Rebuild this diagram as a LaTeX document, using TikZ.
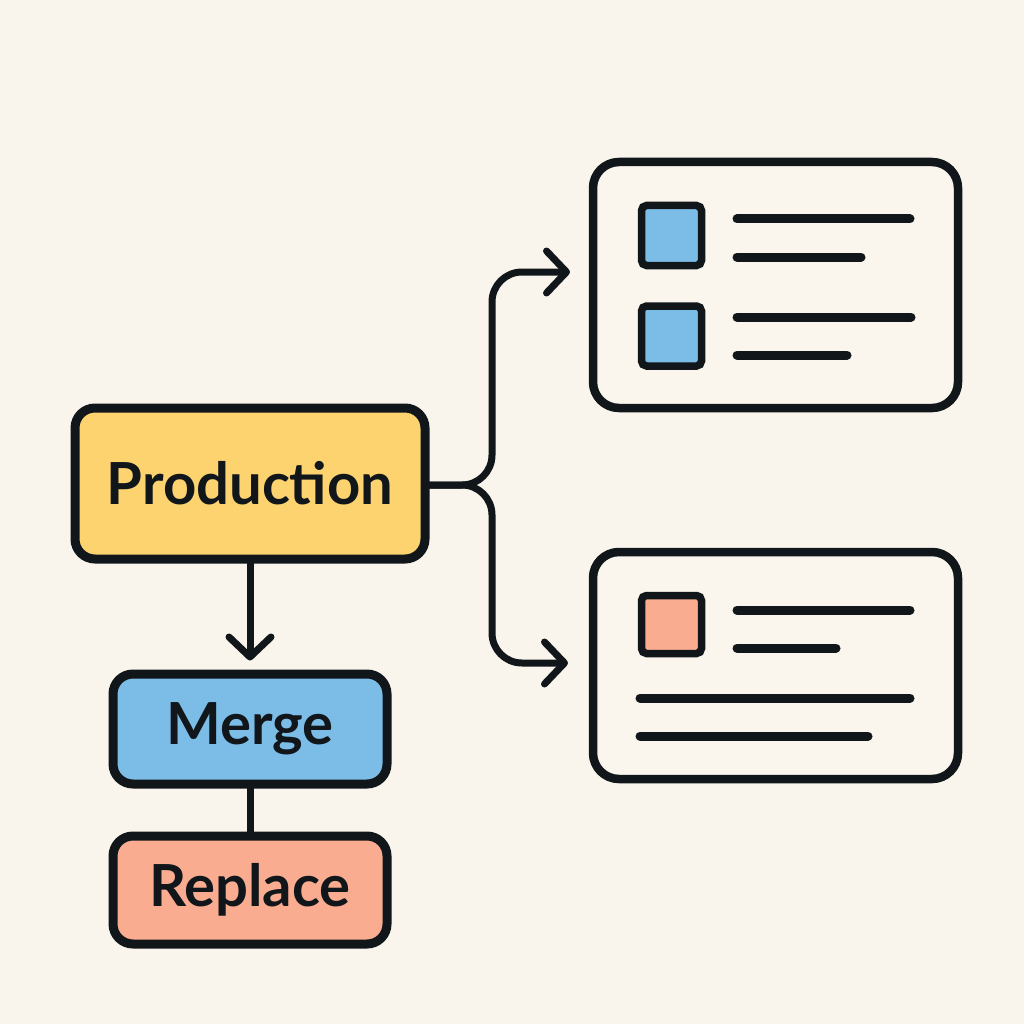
\documentclass[tikz,border=0pt]{standalone}
\usepackage{fontspec}
\setmainfont{Lato}
\usetikzlibrary{arrows.meta}
\definecolor{bg}{RGB}{250,245,236}
\definecolor{ink}{RGB}{17,22,26}
\definecolor{cyellow}{RGB}{252,211,110}
\definecolor{cblue}{RGB}{124,189,232}
\definecolor{csalmon}{RGB}{250,172,144}
\definecolor{card}{RGB}{250,246,238}
\begin{document}
\begin{tikzpicture}[x=1pt,y=-1pt,
  box/.style={draw=ink,line width=9pt,rounded corners=20pt,align=center,inner sep=0pt,
    font=\bfseries\fontsize{58}{62}\selectfont,text=ink},
  cardbox/.style={draw=ink,line width=8.5pt,rounded corners=26pt,fill=card,inner sep=0pt},
  sq/.style={draw=ink,line width=7.5pt,rounded corners=5pt,minimum width=60pt,minimum height=60pt,inner sep=0pt},
  conn/.style={draw=ink,line width=7pt,line cap=round,line join=round},
  tip/.style={-{Straight Barb[length=20pt,width=42pt,round]}},
  txt/.style={draw=ink,line width=9pt,line cap=round}]
\useasboundingbox[fill=bg] (0,0) rectangle (1024,1024);

\node[box,fill=cyellow,minimum width=350pt,minimum height=151pt] (prod) at (250,483.5) {Production};
\node[box,fill=cblue,minimum width=274pt,minimum height=110pt] (merge) at (250,729) {Merge};
\node[box,fill=csalmon,minimum width=274pt,minimum height=108pt] (repl) at (250,890) {Replace};

\node[cardbox,minimum width=365pt,minimum height=246pt] (card1) at (775.5,285) {};
\node[cardbox,minimum width=365pt,minimum height=227pt] (card2) at (775.5,665.5) {};

\node[sq,fill=cblue] (s1) at (671.5,235.5) {};
\node[sq,fill=cblue] (s2) at (671.5,336) {};
\node[sq,fill=csalmon,minimum height=58pt] (s3) at (671.5,624.5) {};

\draw[txt] (737,219) -- (910,219);
\draw[txt] (737,257) -- (861,257);
\draw[txt] (737,317) -- (911,317);
\draw[txt] (737,355) -- (847,355);
\draw[txt] (737,610) -- (910,610);
\draw[txt] (737,648) -- (836,648);
\draw[txt] (640,698) -- (910,698);
\draw[txt] (640,736) -- (868,736);

\coordinate (j) at (492,485);
\coordinate (t1) at (570,272);
\coordinate (t2) at (568,663);

\draw[conn,tip,shorten >=9pt] (prod.south) -- (prod.south |- merge.north);
\draw[conn] (merge.south) -- (repl.north);
\draw[conn,tip,rounded corners=30pt] (prod.east |- j) -- (j) -- (j |- t1) -- (t1);
\draw[conn,tip,rounded corners=30pt] (prod.east |- j) -- (j) -- (j |- t2) -- (t2);
\end{tikzpicture}
\end{document}
